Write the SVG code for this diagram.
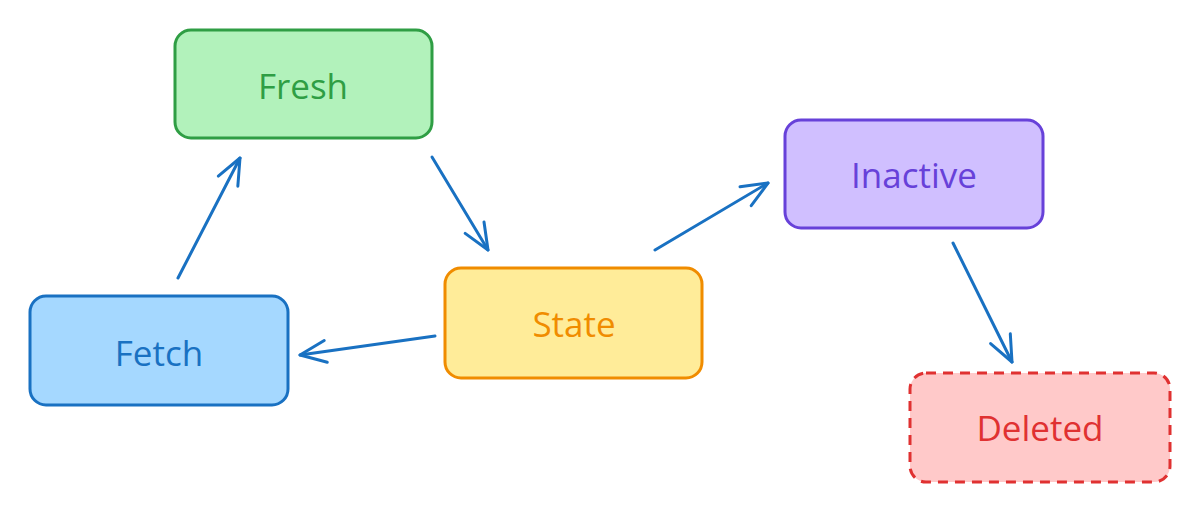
<svg xmlns="http://www.w3.org/2000/svg" width="1200" height="513" viewBox="0 0 1200 513">
<defs>
<marker id="ah" viewBox="0 0 30 30" refX="28" refY="15" markerWidth="30" markerHeight="30" markerUnits="userSpaceOnUse" orient="auto">
<path d="M2,4 L28,15 L2,26" fill="none" stroke="#1971c2" stroke-width="3" stroke-linecap="round" stroke-linejoin="round"/>
</marker>
<style>
.n{stroke-width:3}
.t{font-family:"Open Sans","Liberation Sans",sans-serif;font-size:35px;text-anchor:middle;dominant-baseline:central}
.c line{stroke:#1971c2;stroke-width:3;stroke-linecap:round;marker-end:url(#ah)}
</style>
</defs>
<rect width="1200" height="513" fill="#ffffff"/>
<g id="fresh"><rect class="n" x="175" y="30" width="257" height="108" rx="16" fill="#b2f2bb" stroke="#2f9e44"/><text class="t" x="303" y="85" fill="#2f9e44">Fresh</text></g>
<g id="fetch"><rect class="n" x="30" y="296" width="258" height="109" rx="16" fill="#a5d8ff" stroke="#1971c2"/><text class="t" x="159" y="352" fill="#1971c2">Fetch</text></g>
<g id="state"><rect class="n" x="445" y="268" width="257" height="110" rx="16" fill="#ffec99" stroke="#f08c00"/><text class="t" x="574" y="323" fill="#f08c00">State</text></g>
<g id="inactive"><rect class="n" x="785" y="120" width="258" height="108" rx="16" fill="#d0bfff" stroke="#6741d9"/><text class="t" x="914" y="174" fill="#6741d9">Inactive</text></g>
<g id="deleted"><rect class="n" x="910" y="373" width="260" height="109" rx="16" fill="#ffc9c9" stroke="#e03131" stroke-dasharray="10 7"/><text class="t" x="1040" y="427" fill="#e03131">Deleted</text></g>
<g class="c" id="connectors">
<line x1="178" y1="278" x2="240" y2="158"/>
<line x1="432" y1="157" x2="488" y2="250"/>
<line x1="435" y1="336" x2="300" y2="355"/>
<line x1="655" y1="250" x2="768" y2="183"/>
<line x1="953" y1="243" x2="1012" y2="362"/>
</g>
</svg>
